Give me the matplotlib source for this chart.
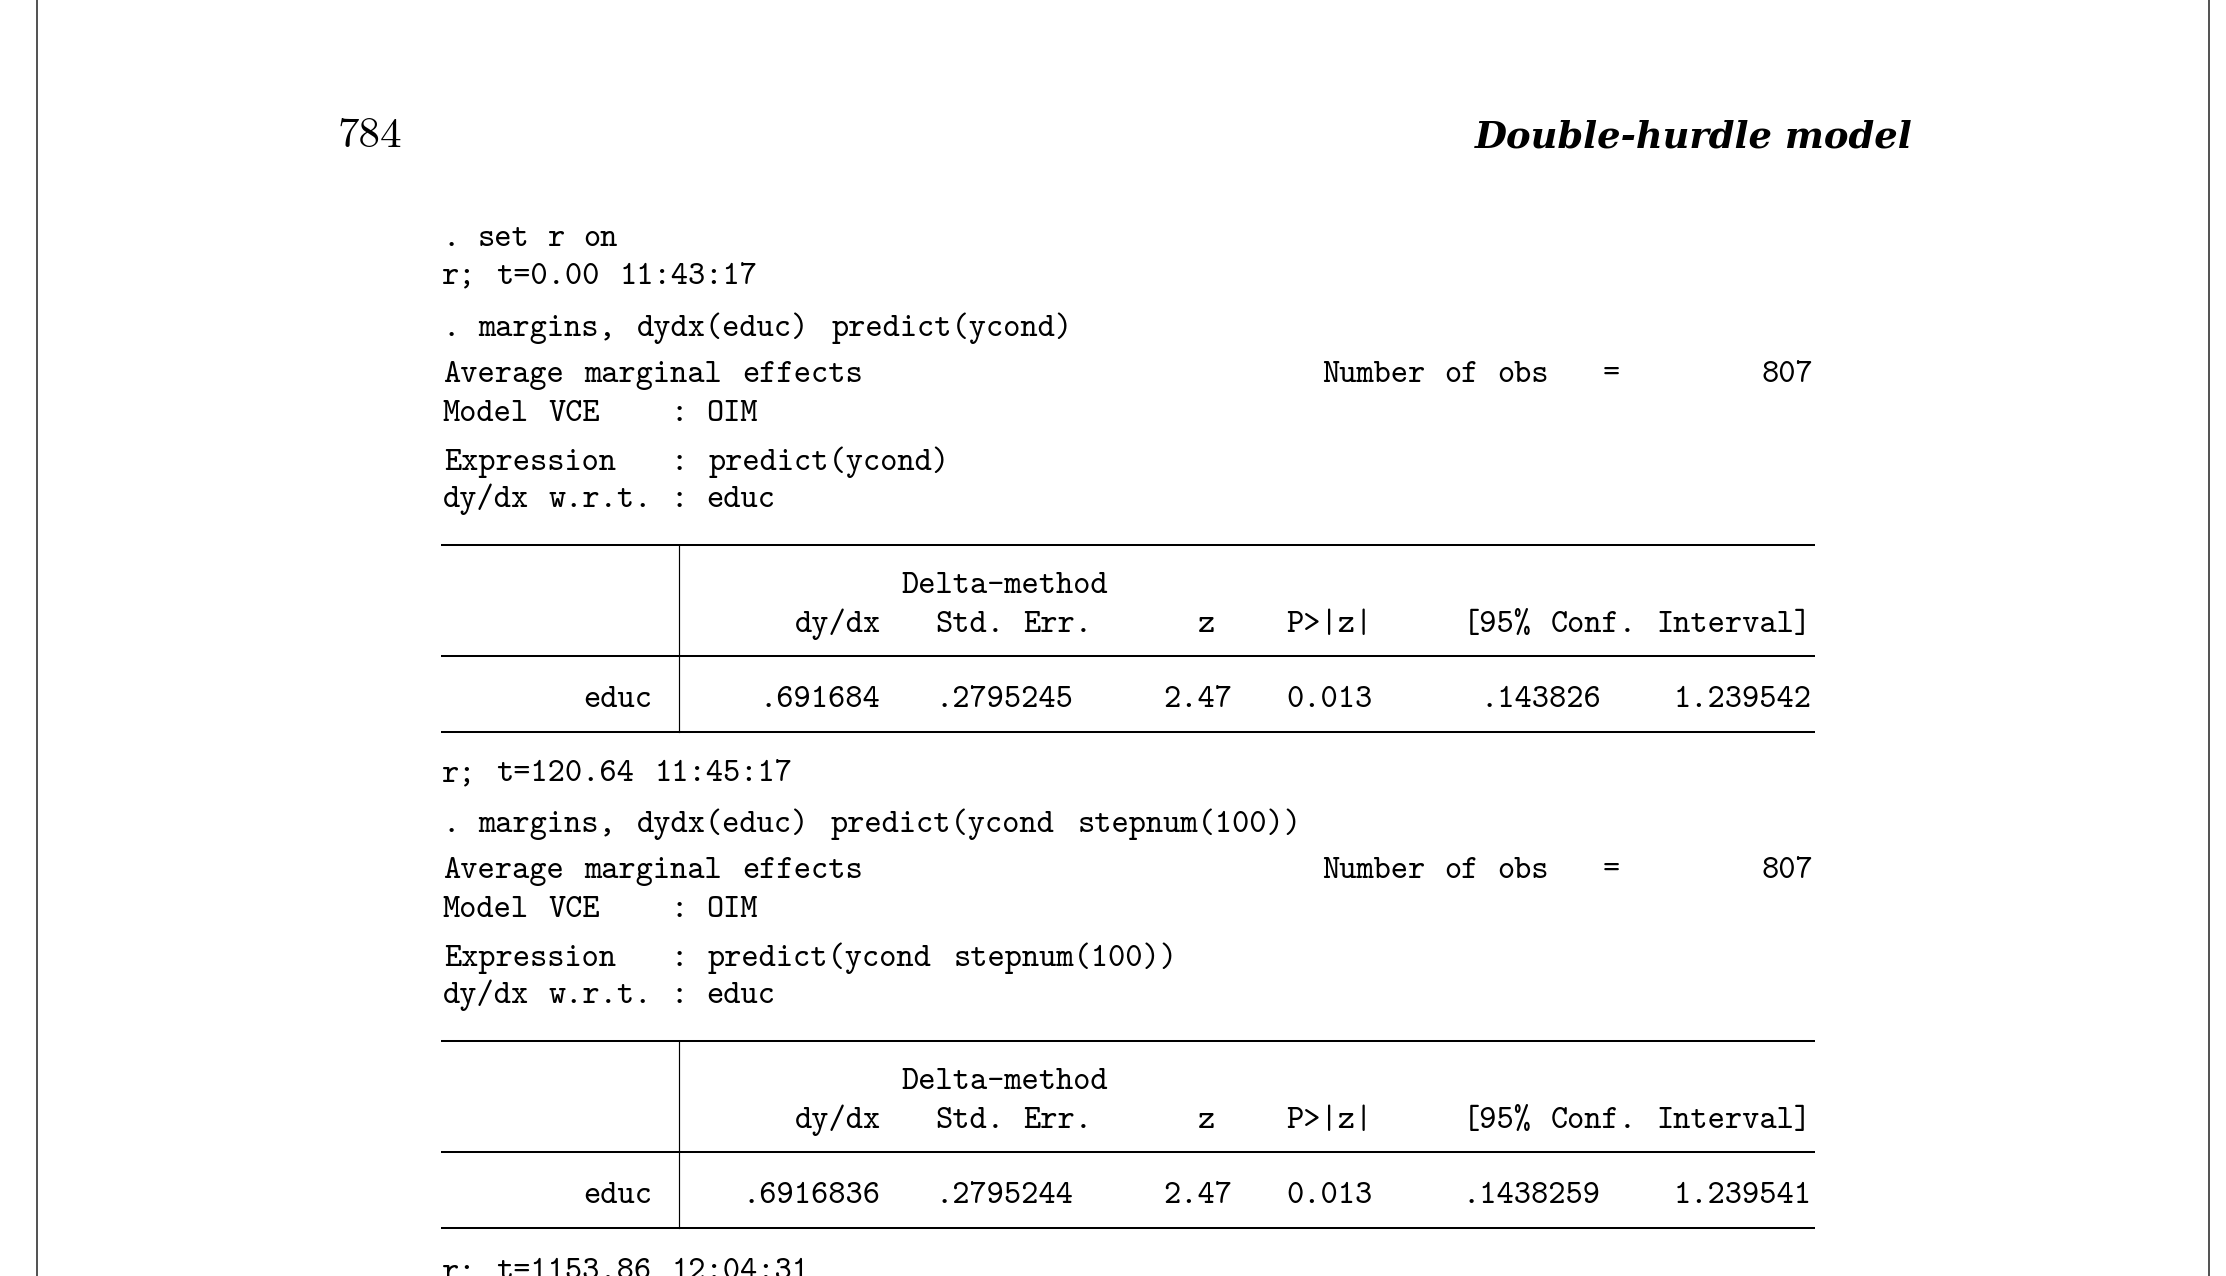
import re
import matplotlib
matplotlib.use("Agg")
import matplotlib.pyplot as plt

# page text
page_number = "784"
running_head = "Double-hurdle model"
set_cmd = ". set r on"
timings = ["r; t=0.00 11:43:17", "r; t=120.64 11:45:17", "r; t=1153.86 12:04:31"]
commands = [". margins, dydx(educ) predict(ycond)",
            ". margins, dydx(educ) predict(ycond stepnum(100))"]
expressions = ["predict(ycond)", "predict(ycond stepnum(100))"]
n_obs = ["807", "807"]
vce = "OIM"
wrt = "educ"

# results tables (one row each)
row_names = ["educ", "educ"]
dydx = [".691684", ".6916836"]
std_err = [".2795245", ".2795244"]
z_vals = ["2.47", "2.47"]
p_vals = ["0.013", "0.013"]
ci_low = [".143826", ".1438259"]
ci_high = ["1.239542", "1.239541"]
col_labels = ["dy/dx", "Std. Err.", "z", "P>|z|", "[95% Conf. Interval]"]
label_ends = [25, 37, 44, 53, 78]
value_ends = [25, 36, 45, 53, 66, 78]

W, H = 2226, 1276
X0 = 442.0     # left edge of the log text
ADV = 17.58    # width of one character column
TT = ["cmtt10", "DejaVu Sans Mono"]
TT_SIZE = 23.6

fig = plt.figure(figsize=(W / 100, H / 100), dpi=100)
ax = fig.add_axes([0, 0, 1, 1])
ax.set_xlim(0, W)
ax.set_ylim(H, 0)
ax.axis("off")


def tt(y, s, col=0):
    # place every word on the fixed character grid
    for m in re.finditer(r"\S+", s):
        tok = m.group()
        xc = X0 + (col + m.start() + len(tok) / 2) * ADV
        ax.text(xc, y, tok, ha="center", va="baseline",
                family=TT, fontsize=TT_SIZE, color="black")


def tt_right(y, s, end_col):
    tt(y, s, end_col - len(s))


def col_x(c):
    return X0 + c * ADV


# page border lines
ax.axvline(37, color="#222222", lw=1.1)
ax.axvline(2209, color="#222222", lw=1.1)

# running head
ax.text(338, 147, page_number, ha="left", va="baseline",
        family=["cmr10", "DejaVu Serif"], fontsize=31)
ax.text(1913, 147, running_head, ha="right", va="baseline",
        family="DejaVu Serif", fontsize=26.6, fontweight="bold", fontstyle="italic")

tt(246, set_cmd)
tt(284, timings[0])

cmd_y = [336, 832]
for i in range(2):
    y = cmd_y[i]
    if i > 0:
        tt(y - 51, timings[i])
    tt(y, commands[i])
    tt(y + 46, "Average marginal effects")
    tt(y + 46, "Number of obs", 50)
    tt(y + 46, "=", 66)
    tt_right(y + 46, n_obs[i], 78)
    tt(y + 85, "Model VCE")
    tt(y + 85, ": " + vce, 13)
    tt(y + 134, "Expression")
    tt(y + 134, ": " + expressions[i], 13)
    tt(y + 171, "dy/dx w.r.t.")
    tt(y + 171, ": " + wrt, 13)

    top, mid, bot = y + 209, y + 320, y + 396
    for ry in (top, mid, bot):
        ax.plot([col_x(0) - 1, col_x(78) + 2], [ry, ry], color="black", lw=1.45,
                solid_capstyle="butt")
    ax.plot([col_x(13.5), col_x(13.5)], [top, bot], color="black", lw=0.85)

    tt(y + 257, "Delta-method", 26)
    for lab, e in zip(col_labels, label_ends):
        tt_right(y + 296, lab, e)
    tt_right(y + 371, row_names[i], 12)
    vals = [dydx[i], std_err[i], z_vals[i], p_vals[i], ci_low[i], ci_high[i]]
    for v, e in zip(vals, value_ends):
        tt_right(y + 371, v, e)

tt(cmd_y[1] + 396 + 51, timings[2])

fig.savefig("out.png", dpi=100, facecolor="white")
